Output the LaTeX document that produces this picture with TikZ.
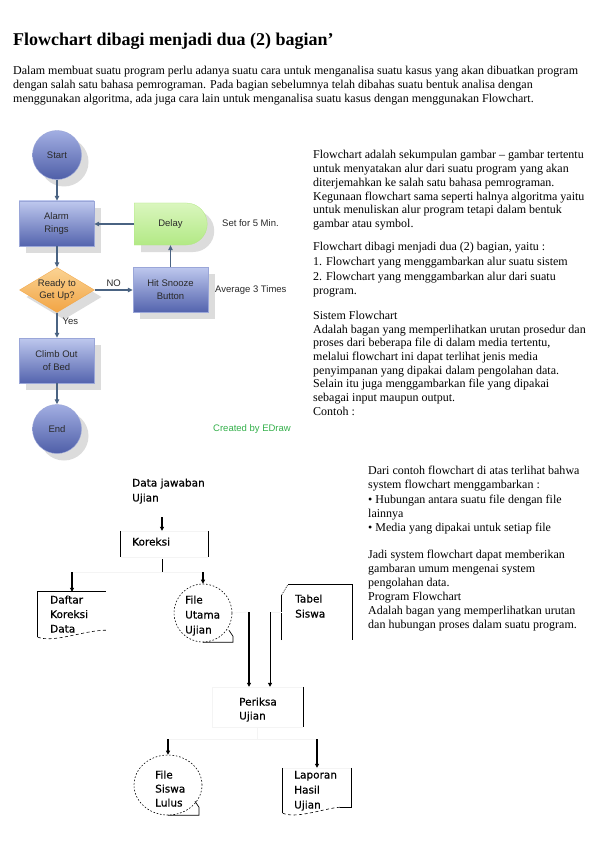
\documentclass[tikz,border=0pt]{standalone}
\usepackage{fontspec}
\setmainfont{Liberation Serif}
\newfontfamily\arialf{Liberation Sans}
\newfontfamily\dvs[FakeBold=0.4]{DejaVu Sans}
\usetikzlibrary{shapes.geometric,shapes.misc,shadows,arrows.meta}
\definecolor{boxtop}{HTML}{BEC8EE}
\definecolor{boxbot}{HTML}{5464AE}
\definecolor{boxline}{HTML}{9AA6D8}
\definecolor{circtop}{HTML}{A2AEE2}
\definecolor{circbot}{HTML}{4F5FA8}
\definecolor{greentop}{HTML}{DAF6BE}
\definecolor{greenbot}{HTML}{B2E985}
\definecolor{orgtop}{HTML}{FAD393}
\definecolor{orgbot}{HTML}{F2A444}
\definecolor{shadowc}{HTML}{DCDCDC}
\definecolor{arrc}{HTML}{4A6382}
\definecolor{edtext}{HTML}{2A2A2A}
\definecolor{edgreen}{HTML}{33B04A}
\definecolor{faintc}{HTML}{F4F4F4}
\newcommand{\tlines}[2]{\parbox[t]{580pt}{\fontsize{12}{#1}\selectfont #2}}
\newcommand{\slines}[2]{\parbox[t]{90pt}{\fontsize{10.5}{#1}\selectfont #2}}
\begin{document}
\begin{tikzpicture}[x=1pt,y=1pt,
  edfont/.style={font=\arialf\fontsize{9.5}{12.3}\selectfont, text=edtext},
  sh/.style={drop shadow={shadow xshift=7pt,shadow yshift=-7pt,fill=shadowc,opacity=1}},
  bluebox/.style={edfont, align=center, inner sep=0pt, rectangle, minimum width=75pt, minimum height=45pt,
    top color=boxtop, bottom color=boxbot, draw=boxline, line width=0.4pt, sh},
  circ/.style={edfont, inner sep=0pt, circle, minimum size=49pt,
    top color=circtop, bottom color=circbot, draw=boxline, line width=0.4pt, sh},
  delays/.style={edfont, inner sep=0pt, rounded rectangle, rounded rectangle west arc=none,
    minimum width=73pt, minimum height=42pt, top color=greentop, bottom color=greenbot,
    draw=greenbot, line width=0.3pt, sh},
  dia/.style={edfont, align=center, inner sep=0pt, diamond, aspect=1.667, minimum width=75pt,
    minimum height=45pt, top color=orgtop, bottom color=orgbot, draw=orgbot, line width=0.3pt, sh},
  arr/.style={-{Triangle[length=5pt,width=4.5pt]}, line width=1.1pt, draw=arrc},
  lbl/.style={edfont, inner sep=0pt},
  btxt/.style={anchor=base west, inner sep=0pt},
  stxt/.style={anchor=base west, inner sep=0pt, font=\dvs\fontsize{10.5}{14.5}\selectfont, text=black},
  shp/.style={rectangle, inner sep=0pt, draw=none},
  edge/.style={line width=0.8pt, draw=black},
  faint/.style={line width=0.6pt, draw=faintc},
  dsh/.style={line width=0.6pt, draw=black, dash pattern=on 1.6pt off 1.8pt},
  sarr/.style={-{Triangle[length=4pt,width=4pt]}, line width=1.2pt, draw=black}
]
\useasboundingbox (0,0) rectangle (595,-842);
\fill[white] (0,0) rectangle (595,-842);

% ---------- texts ----------
\node[btxt, font=\bfseries\fontsize{18}{20}\selectfont] (title) at (13,-45.5) {Flowchart dibagi menjadi dua (2) bagian’};
\node[btxt] (p1) at (13,-74.5) {\tlines{14}{Dalam membuat suatu program perlu adanya suatu cara untuk menganalisa suatu kasus yang akan dibuatkan program\\
dengan salah satu bahasa pemrograman. Pada bagian sebelumnya telah dibahas suatu bentuk analisa dengan\\
menggunakan algoritma, ada juga cara lain untuk menganalisa suatu kasus dengan menggunakan Flowchart.}};
\node[btxt] (p2) at (313,-158.5) {\tlines{13.87}{Flowchart adalah sekumpulan gambar – gambar tertentu\\
untuk menyatakan alur dari suatu program yang akan\\
diterjemahkan ke salah satu bahasa pemrograman.\\
Kegunaan flowchart sama seperti halnya algoritma yaitu\\
untuk menuliskan alur program tetapi dalam bentuk\\
gambar atau symbol.}};
\node[btxt] (p3) at (313,-250.8) {\tlines{14.7}{Flowchart dibagi menjadi dua (2) bagian, yaitu :\\
1. Flowchart yang menggambarkan alur suatu sistem\\
2. Flowchart yang menggambarkan alur dari suatu\\
program.}};
\node[btxt] (p4) at (313,-319.5) {\tlines{13.67}{Sistem Flowchart\\
Adalah bagan yang memperlihatkan urutan prosedur dan\\
proses dari beberapa file di dalam media tertentu,\\
melalui flowchart ini dapat terlihat jenis media\\
penyimpanan yang dipakai dalam pengolahan data.\\
Selain itu juga menggambarkan file yang dipakai\\
sebagai input maupun output.\\
Contoh :}};
\node[btxt] (p5) at (368,-474.5) {\tlines{14.3}{Dari contoh flowchart di atas terlihat bahwa\\
system flowchart menggambarkan :\\
• Hubungan antara suatu file dengan file\\
lainnya\\
• Media yang dipakai untuk setiap file}};
\node[btxt] (p6) at (368,-558.5) {\tlines{13.9}{Jadi system flowchart dapat memberikan\\
gambaran umum mengenai system\\
pengolahan data.\\
Program Flowchart\\
Adalah bagan yang memperlihatkan urutan\\
dan hubungan proses dalam suatu program.}};

% ---------- EDraw flowchart ----------
\node[circ] (start) at (57,-155) {Start};
\node[bluebox] (alarm) at (56.5,-223.5) {Alarm\\Rings};
\node[delays] (delay) at (170.5,-224) {Delay};
\node[dia] (ready) at (57,-290) {Ready to\\Get Up?};
\node[bluebox] (snooze) at (170.5,-289.5) {Hit Snooze\\Button};
\node[bluebox] (climb) at (56.5,-360.5) {Climb Out\\of Bed};
\node[circ] (end) at (57,-429) {End};

\node[lbl, anchor=west] (setfor) at (222,-223) {Set for 5 Min.};
\node[lbl, anchor=west] (avg) at (215,-290) {Average 3 Times};
\node[lbl, anchor=west, text=edgreen] (created) at (213,-429) {Created by EDraw};

\draw[arr] (start.south) -- (start.south |- alarm.north);
\draw[arr] (delay.west) -- (delay.west -| alarm.east);
\draw[arr] (alarm.south -| start.south) -- (ready.north);
\draw[arr] (ready.east) -- (ready.east -| snooze.west) node[lbl, midway, above=3pt] (no) {NO};
\draw[arr] (snooze.north) -- (delay.south);
\draw[arr] (ready.south) -- (ready.south |- climb.north) node[lbl, pos=0.35, right=5pt] (yes) {Yes};
\draw[arr] (climb.south -| end.north) -- (end.north);

% ---------- system flowchart ----------
\node[stxt] (dj) at (132,-486.5) {\slines{15}{Data jawaban\\Ujian}};
\coordinate (djb) at (162,-517);

\node[shp, minimum width=87pt, minimum height=26pt] (koreksi) at (164.5,-544) {};
\draw[faint] (koreksi.north west) -- (koreksi.north east);
\draw[faint] (koreksi.south west) -- (koreksi.south east);
\draw[edge] (koreksi.north west) -- (koreksi.south west);
\draw[edge] (koreksi.north east) -- (koreksi.south east);
\node[stxt] (kt) at (132,-545.5) {Koreksi};
\draw[sarr] (djb) -- (djb |- koreksi.north);

\coordinate (split) at (162,-572);
\draw[edge] ([yshift=-2pt]koreksi.south -| split) -- (split);

% Daftar Koreksi Data (document)
\node[shp, minimum width=68pt, minimum height=45pt] (daftar) at (72,-614.5) {};
\draw[edge] (daftar.south west) -- (daftar.north west) -- (daftar.north east);
\draw[dsh, dash pattern=on 3pt off 2.5pt] (daftar.south west) .. controls +(16,-6) and +(-22,0) .. ([yshift=7pt]daftar.south east);
\node[stxt] (daftart) at (50,-603.5) {\slines{14.5}{Daftar\\Koreksi\\Data}};

% File Utama Ujian (tape)
\node[circle, minimum size=58pt, inner sep=0pt, dsh] (futama) at (203,-613) {};
\draw[edge, line width=0.7pt] (futama.south) -- ++(30,0) -- ++(0,6) -- ++(-4,6);
\node[stxt] (futamat) at (185,-603.5) {\slines{15}{File\\Utama\\Ujian}};

\draw[faint] (split -| daftar.north) -- (split -| futama.north);
\draw[sarr] (split -| daftar.north) -- (daftar.north);
\draw[sarr] (split -| futama.north) -- (futama.north);

% Tabel Siswa (card)
\node[shp, minimum width=70pt, minimum height=55pt] (tabel) at (317,-612.5) {};
\draw[edge] (tabel.south west) -- ([yshift=-10pt]tabel.north west);
\draw[dsh, dash pattern=on 1pt off 1pt] ([yshift=-10pt]tabel.north west) -- ([xshift=6pt]tabel.north west);
\draw[edge] ([xshift=6pt]tabel.north west) -- (tabel.north east) -- (tabel.south east);
\node[stxt] (tabelt) at (295,-602.5) {\slines{15}{Tabel\\Siswa}};

% Periksa Ujian (process)
\node[shp, minimum width=91pt, minimum height=40pt] (periksa) at (257.5,-707) {};
\draw[faint] (periksa.north east) -- (periksa.north west) -- (periksa.south west) -- (periksa.south east);
\draw[edge] (periksa.north east) -- (periksa.south east);
\node[stxt] (periksat) at (239,-705.5) {\slines{14}{Periksa\\Ujian}};

\coordinate (fa) at (249,-612);
\coordinate (ta) at (270,-612);
\draw[faint] (futama.east) -- (fa);
\draw[faint] (tabel.west |- ta) -- (ta);
\draw[sarr, line width=2pt] (fa) -- (fa |- periksa.north);
\draw[sarr, line width=1pt] (ta) -- (ta |- periksa.north);

% File Siswa Lulus (tape)
\node[ellipse, minimum width=68pt, minimum height=60pt, inner sep=0pt, dsh] (fsl) at (168,-785) {};
\draw[edge, line width=0.7pt] (fsl.south) -- ++(31,0) -- ++(0,8) -- ++(-4,6);
\node[stxt] (fslt) at (155,-778.5) {\slines{14}{File\\Siswa\\Lulus}};

% Laporan Hasil Ujian (document)
\node[shp, minimum width=68pt, minimum height=45pt] (lap) at (317,-790.5) {};
\draw[faint] (lap.north west) -- (lap.north east);
\draw[edge] (lap.north west) -- (lap.south west);
\draw[edge] (lap.north east) -- ([yshift=6pt]lap.south east) -- ++(-11,0);
\draw[dsh, dash pattern=on 3pt off 2.5pt] (lap.south west) .. controls +(14,-6) and +(-16,-1) .. ([xshift=-11pt,yshift=6pt]lap.south east);
\node[stxt] (lapt) at (294,-778.5) {\slines{15}{Laporan\\Hasil\\Ujian}};

\coordinate (pb) at (257.5,-739);
\draw[faint] (periksa.south) -- (pb);
\draw[faint] (pb -| fsl.north) -- (pb -| lap.north);
\draw[sarr] (pb -| fsl.north) -- (fsl.north);
\draw[sarr] (pb -| lap.north) -- (lap.north);
\end{tikzpicture}
\end{document}
